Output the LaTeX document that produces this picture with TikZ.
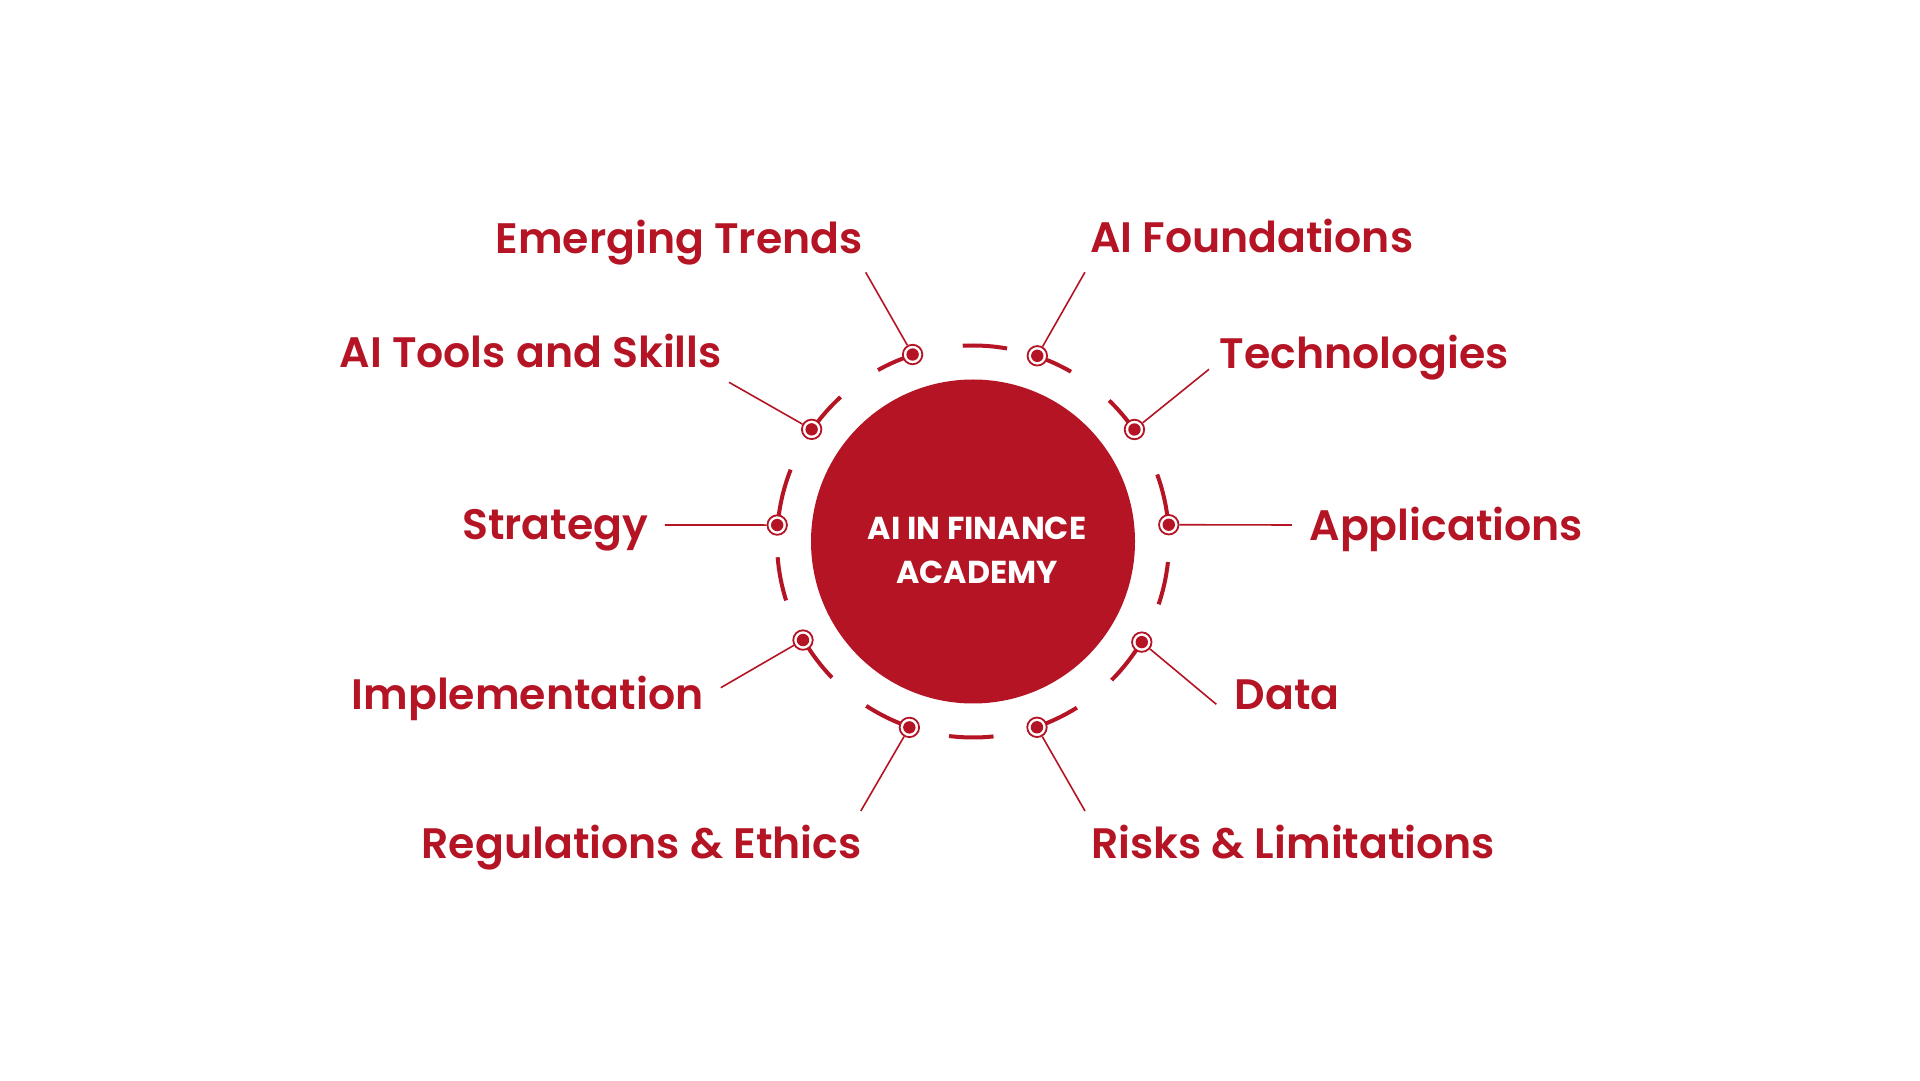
\documentclass[tikz,border=0pt]{standalone}
\usepackage{fontspec}
\setmainfont{Poppins}
\newfontfamily\labelfont{Poppins SemiBold}
\newfontfamily\hubfont{Poppins Bold}
\usepackage{tikz}

\definecolor{brand}{RGB}{181,20,36}
\tikzset{
  ring/.style={draw=brand, line width=4pt},
  leader/.style={draw=brand, line width=1.6pt},
  marker/.style={circle, draw=brand, line width=1.8pt, fill=white,
    minimum size=19.5pt, inner sep=0pt,
    path picture={\fill[brand] (path picture bounding box.center) circle [radius=6.2pt];}},
  topic/.style={text=brand, inner sep=0pt,
    font=\labelfont\fontsize{42.6}{50}\selectfont}
}

\begin{document}
\begin{tikzpicture}[x=1pt,y=1pt]
\fill[white] (0,0) rectangle (1920,1080);
\useasboundingbox (0,0) rectangle (1920,1080);

% dashed ring
\node[circle, fill=brand, minimum size=324pt, inner sep=0pt] (hub) at (973,538.5) {};
\foreach \a/\b in {80/93, 108/119, 132.5/145, 158.5/175, 184.6/197.5, 210/224,
  237/251, 263/276, 289/302, 315/329, 341.3/354, 365/380, 395/406, 420/431}
  \draw[ring] (hub.center) ++(\a:196) arc [start angle=\a, end angle=\b, radius=196];

\node[text=white, align=center, inner sep=0pt,
  font=\hubfont\fontsize{31.7}{43.7}\selectfont] (hubtext) at (977,530) {AI IN FINANCE\\ACADEMY};

% topics
\foreach \ang/\id/\ex/\ey/\anc/\lx/\ly/\txt in {
  107.9/emerging/865.7/807.7/base east/862.8/826.7/Emerging Trends,
  70.9/found/1084.9/807.7/base west/1089.8/827.7/AI Foundations,
  34.75/tech/1209/710.7/base west/1219.6/711.7/Technologies,
  4.9/apps/1291.8/555/base west/1309.4/539.3/Applications,
  -30.8/data/1216.3/375.7/base west/1234.7/370/Data,
  -71/risks/1085/269/base west/1090.9/221.7/Risks \& Limitations,
  -108.9/regs/860.8/269/base east/861.6/221.7/Regulations \& Ethics,
  -149.9/impl/720.8/392.3/base east/703.6/370/Implementation,
  175.2/strat/664.9/555/base east/648.5/540/Strategy,
  145.2/tools/729/697.7/base east/722/712.3/AI Tools and Skills}
{
  \path (hub.center) ++(\ang:196.5) node[marker] (m-\id) {};
  \coordinate (e-\id) at (\ex,\ey);
  \draw[leader] (m-\id) -- (e-\id);
  \node[topic, anchor=\anc] (t-\id) at (\lx,\ly) {\txt};
}
\end{tikzpicture}
\end{document}
